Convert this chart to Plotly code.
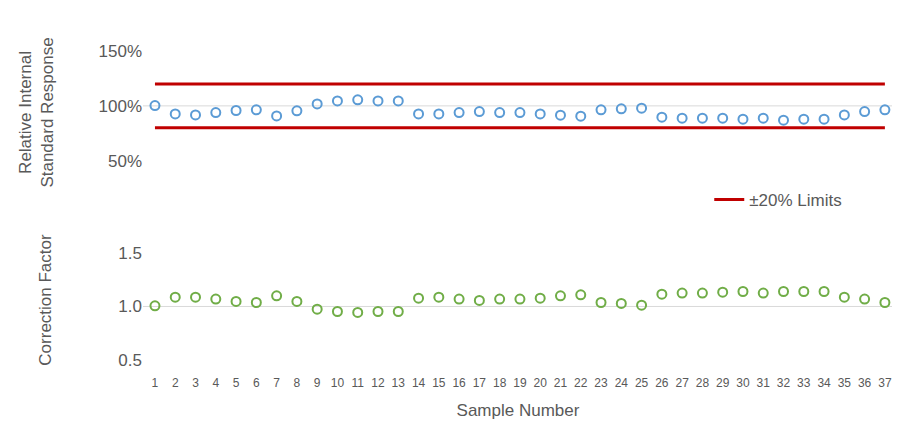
import plotly.graph_objects as go

samples = list(range(1, 38))
response = [100.3, 92.7, 91.8, 93.9, 95.8, 96.4, 90.9, 95.5, 101.8, 104.5, 105.5, 104.5, 104.5,
            92.7, 92.7, 93.9, 94.8, 93.9, 93.9, 92.7, 91.5, 90.6, 96.4, 97.3, 97.9,
            89.7, 88.8, 88.8, 88.8, 87.9, 88.8, 87.0, 87.9, 87.9, 91.8, 94.8, 96.4]
correction = [1.006, 1.087, 1.087, 1.069, 1.047, 1.037, 1.10, 1.047, 0.975, 0.953, 0.944, 0.953, 0.953,
              1.078, 1.087, 1.069, 1.056, 1.069, 1.069, 1.078, 1.10, 1.109, 1.037, 1.028, 1.012,
              1.115, 1.125, 1.125, 1.134, 1.14, 1.125, 1.14, 1.14, 1.14, 1.087, 1.069, 1.037]
upper_limit = [120] * 37
lower_limit = [80] * 37

grey = "#595959"
fig = go.Figure()
fig.add_trace(go.Scatter(x=samples, y=upper_limit, mode="lines", line=dict(color="#C00000", width=3),
                         name="±20% Limits", xaxis="x", yaxis="y"))
fig.add_trace(go.Scatter(x=samples, y=lower_limit, mode="lines", line=dict(color="#C00000", width=3),
                         showlegend=False, xaxis="x", yaxis="y"))
fig.add_trace(go.Scatter(x=samples, y=response, mode="markers", showlegend=False,
                         marker=dict(symbol="circle-open", size=9, color="#5B9BD5", line=dict(width=2)),
                         xaxis="x", yaxis="y"))
fig.add_trace(go.Scatter(x=samples, y=correction, mode="markers", showlegend=False,
                         marker=dict(symbol="circle-open", size=9, color="#70AD47", line=dict(width=2)),
                         xaxis="x2", yaxis="y2"))

fig.add_shape(type="line", xref="x domain", x0=0, x1=1, yref="y", y0=100, y1=100,
              line=dict(color="#D9D9D9", width=1), layer="below")
fig.add_shape(type="line", xref="x2 domain", x0=0, x1=1, yref="y2", y0=1.0, y1=1.0,
              line=dict(color="#D9D9D9", width=1), layer="below")

font = dict(family="Liberation Sans, Arial", color=grey)
fig.update_layout(
    width=900, height=435, margin=dict(l=135, r=15, t=32, b=78),
    plot_bgcolor="white", paper_bgcolor="white", font=font,
    xaxis=dict(domain=[0, 1], range=[0.41, 37.4], anchor="y", showticklabels=False,
               showgrid=False, zeroline=False),
    yaxis=dict(domain=[0.554, 1], range=[28, 160], tickvals=[50, 100, 150],
               ticktext=["50%", "100%", "150%"], showgrid=False, zeroline=False,
               tickfont=dict(size=17, color=grey),
               title=dict(text="Relative Internal<br>Standard Response", font=dict(size=17, color=grey), standoff=40)),
    xaxis2=dict(domain=[0, 1], range=[0.41, 37.4], anchor="y2", tickvals=samples,
                showgrid=False, zeroline=False, tickfont=dict(size=12, color=grey),
                ticks="outside", ticklen=7, tickcolor="rgba(0,0,0,0)",
                title=dict(text="Sample Number", font=dict(size=17, color=grey), standoff=14)),
    yaxis2=dict(domain=[0, 0.4], range=[0.453, 1.668], tickvals=[0.5, 1.0, 1.5],
                ticktext=["0.5", "1.0", "1.5"], showgrid=False, zeroline=False,
                tickfont=dict(size=17, color=grey),
                title=dict(text="Correction Factor", font=dict(size=17, color=grey), standoff=62)),
    legend=dict(x=0.755, y=0.508, xanchor="left", yanchor="middle", font=dict(size=17, color=grey),
                bgcolor="rgba(0,0,0,0)"),
)
fig.write_html("out.html")
